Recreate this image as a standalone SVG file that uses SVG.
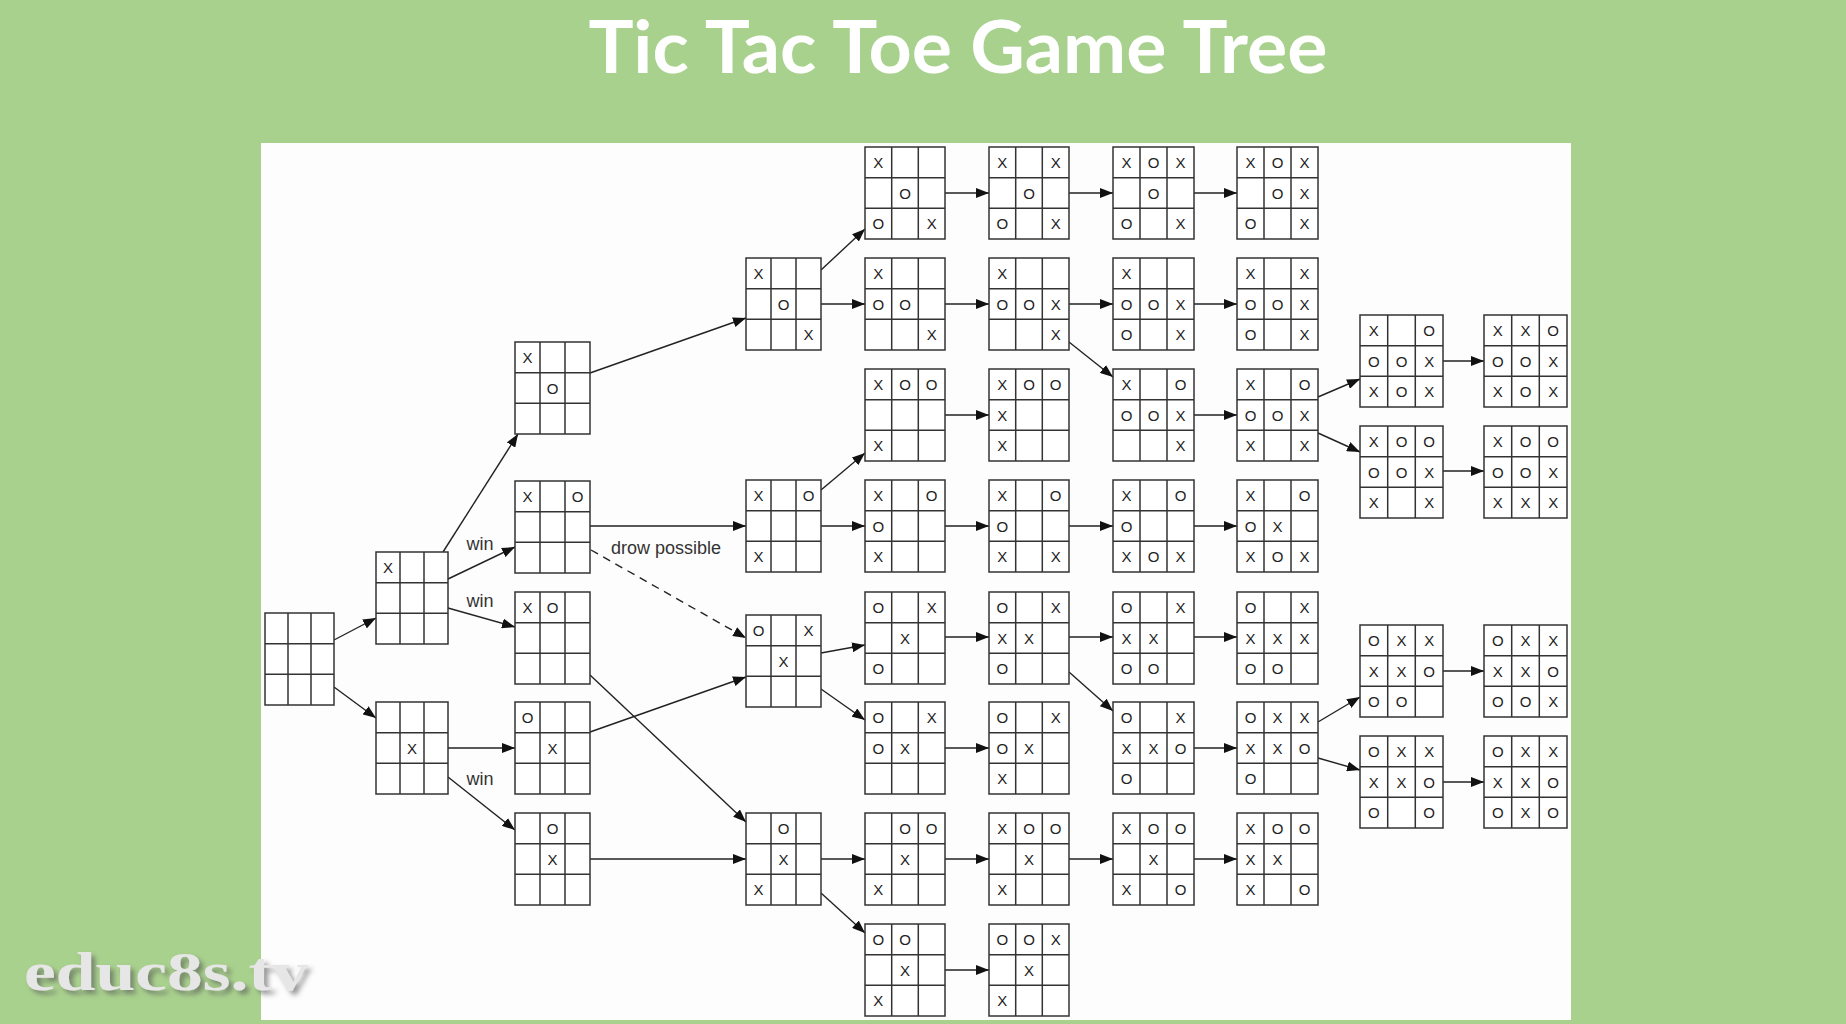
<svg xmlns="http://www.w3.org/2000/svg" xmlns:xlink="http://www.w3.org/1999/xlink" width="1846" height="1024" viewBox="0 0 1846 1024">
<style>
.grid{fill:#fff;stroke:#333;stroke-width:1.5}
.c{font-family:"Liberation Sans",Arial,sans-serif;font-size:15px;fill:#222;text-anchor:middle}
.lbl{font-family:"Liberation Sans",Arial,sans-serif;font-size:18px;fill:#333}
.edge{stroke:#222;stroke-width:1.4;fill:none;marker-end:url(#ah)}
.dash{stroke-dasharray:8 6}
.title{font-family:Lato,"Open Sans","Liberation Sans",sans-serif;font-weight:700;font-size:72px;fill:#fff;text-anchor:middle}
.wm{font-family:"Liberation Serif","Times New Roman",serif;font-weight:700;font-size:54px}
</style>
<defs>
<marker id="ah" markerUnits="userSpaceOnUse" markerWidth="14" markerHeight="10" refX="13" refY="5" orient="auto">
<path d="M0,0 L13,5 L0,10 z" fill="#111"/>
</marker>
<filter id="shadow" x="-10%" y="-30%" width="125%" height="170%">
<feGaussianBlur in="SourceAlpha" stdDeviation="2.5" result="b"/>
<feOffset in="b" dx="4" dy="4" result="o"/>
<feFlood flood-color="#555" flood-opacity="0.6"/>
<feComposite in2="o" operator="in" result="s"/>
<feMerge><feMergeNode in="s"/><feMergeNode in="SourceGraphic"/></feMerge>
</filter>
<g id="g69"><rect class="grid" x="0" y="0" width="69" height="92"/><path class="grid" d="M23,0V92M46,0V92M0,30.7H69M0,61.3H69"/></g>
<g id="g72"><rect class="grid" x="0" y="0" width="72" height="92"/><path class="grid" d="M24,0V92M48,0V92M0,30.7H72M0,61.3H72"/></g>
<g id="g75"><rect class="grid" x="0" y="0" width="75" height="92"/><path class="grid" d="M25,0V92M50,0V92M0,30.7H75M0,61.3H75"/></g>
<g id="g80"><rect class="grid" x="0" y="0" width="80" height="92"/><path class="grid" d="M26.7,0V92M53.3,0V92M0,30.7H80M0,61.3H80"/></g>
<g id="g81"><rect class="grid" x="0" y="0" width="81" height="92"/><path class="grid" d="M27,0V92M54,0V92M0,30.7H81M0,61.3H81"/></g>
<g id="g83"><rect class="grid" x="0" y="0" width="83" height="92"/><path class="grid" d="M27.7,0V92M55.3,0V92M0,30.7H83M0,61.3H83"/></g>
</defs>

<rect x="0" y="0" width="1846" height="1024" fill="#a9d18e"/>
<text class="title" x="958" y="73" textLength="739" lengthAdjust="spacingAndGlyphs">Tic Tac Toe Game Tree</text>
<rect x="261" y="143" width="1310" height="877" fill="#fdfdfd"/>

<g id="connectors">
<line class="edge" x1="334" y1="640" x2="376" y2="618"/>
<line class="edge" x1="334" y1="687" x2="376" y2="718"/>
<line class="edge" x1="443" y1="552" x2="518" y2="434"/>
<line class="edge" x1="448" y1="579" x2="515" y2="547"/>
<line class="edge" x1="448" y1="608" x2="515" y2="627"/>
<line class="edge" x1="448" y1="748" x2="515" y2="748"/>
<line class="edge" x1="448" y1="777" x2="515" y2="830"/>
<line class="edge" x1="590" y1="373" x2="746" y2="318"/>
<line class="edge" x1="590" y1="526" x2="746" y2="526"/>
<line class="edge dash" x1="591" y1="550" x2="746" y2="638"/>
<line class="edge" x1="590" y1="675" x2="746" y2="822"/>
<line class="edge" x1="590" y1="732" x2="746" y2="677"/>
<line class="edge" x1="590" y1="859" x2="746" y2="859"/>
<line class="edge" x1="821" y1="270" x2="865" y2="229"/>
<line class="edge" x1="821" y1="304" x2="865" y2="304"/>
<line class="edge" x1="821" y1="490" x2="865" y2="453"/>
<line class="edge" x1="821" y1="526" x2="865" y2="526"/>
<line class="edge" x1="821" y1="653" x2="865" y2="645"/>
<line class="edge" x1="821" y1="689" x2="865" y2="720"/>
<line class="edge" x1="821" y1="859" x2="865" y2="859"/>
<line class="edge" x1="821" y1="893" x2="865" y2="933"/>
<line class="edge" x1="945" y1="193" x2="989" y2="193"/>
<line class="edge" x1="945" y1="304" x2="989" y2="304"/>
<line class="edge" x1="945" y1="415" x2="989" y2="415"/>
<line class="edge" x1="945" y1="526" x2="989" y2="526"/>
<line class="edge" x1="945" y1="637" x2="989" y2="637"/>
<line class="edge" x1="945" y1="748" x2="989" y2="748"/>
<line class="edge" x1="945" y1="859" x2="989" y2="859"/>
<line class="edge" x1="945" y1="970" x2="989" y2="970"/>
<line class="edge" x1="1069" y1="193" x2="1113" y2="193"/>
<line class="edge" x1="1069" y1="304" x2="1113" y2="304"/>
<line class="edge" x1="1069" y1="342" x2="1113" y2="377"/>
<line class="edge" x1="1069" y1="526" x2="1113" y2="526"/>
<line class="edge" x1="1069" y1="637" x2="1113" y2="637"/>
<line class="edge" x1="1069" y1="672" x2="1113" y2="711"/>
<line class="edge" x1="1069" y1="859" x2="1113" y2="859"/>
<line class="edge" x1="1194" y1="193" x2="1237" y2="193"/>
<line class="edge" x1="1194" y1="304" x2="1237" y2="304"/>
<line class="edge" x1="1194" y1="415" x2="1237" y2="415"/>
<line class="edge" x1="1194" y1="526" x2="1237" y2="526"/>
<line class="edge" x1="1194" y1="637" x2="1237" y2="637"/>
<line class="edge" x1="1194" y1="748" x2="1237" y2="748"/>
<line class="edge" x1="1194" y1="859" x2="1237" y2="859"/>
<line class="edge" x1="1318" y1="397" x2="1360" y2="379"/>
<line class="edge" x1="1318" y1="433" x2="1360" y2="452"/>
<line class="edge" x1="1318" y1="722" x2="1360" y2="697"/>
<line class="edge" x1="1318" y1="758" x2="1360" y2="770"/>
<line class="edge" x1="1443" y1="361" x2="1484" y2="361"/>
<line class="edge" x1="1443" y1="471" x2="1484" y2="471"/>
<line class="edge" x1="1443" y1="671" x2="1484" y2="671"/>
<line class="edge" x1="1443" y1="782" x2="1484" y2="782"/>
<text class="lbl" x="480" y="550" text-anchor="middle">win</text>
<text class="lbl" x="480" y="607" text-anchor="middle">win</text>
<text class="lbl" x="480" y="785" text-anchor="middle">win</text>
<text class="lbl" x="611" y="554">drow possible</text>
</g>

<g id="n0" transform="translate(265,613)"><use href="#g69"/></g>
<g id="n1" transform="translate(376,552)"><use href="#g72"/><text class="c" x="12" y="21">X</text></g>
<g id="n2" transform="translate(376,702)"><use href="#g72"/><text class="c" x="36" y="51.5">X</text></g>

<g id="n3" transform="translate(515,342)"><use href="#g75"/><text class="c" x="12.5" y="21">X</text><text class="c" x="37.5" y="51.5">O</text></g>
<g id="n4" transform="translate(515,481)"><use href="#g75"/><text class="c" x="12.5" y="21">X</text><text class="c" x="62.5" y="21">O</text></g>
<g id="n5" transform="translate(515,592)"><use href="#g75"/><text class="c" x="12.5" y="21">X</text><text class="c" x="37.5" y="21">O</text></g>
<g id="n6" transform="translate(515,702)"><use href="#g75"/><text class="c" x="12.5" y="21">O</text><text class="c" x="37.5" y="51.5">X</text></g>
<g id="n7" transform="translate(515,813)"><use href="#g75"/><text class="c" x="37.5" y="21">O</text><text class="c" x="37.5" y="51.5">X</text></g>

<g id="n8" transform="translate(746,258)"><use href="#g75"/><text class="c" x="12.5" y="21">X</text><text class="c" x="37.5" y="51.5">O</text><text class="c" x="62.5" y="82">X</text></g>
<g id="n9" transform="translate(746,480)"><use href="#g75"/><text class="c" x="12.5" y="21">X</text><text class="c" x="62.5" y="21">O</text><text class="c" x="12.5" y="82">X</text></g>
<g id="n10" transform="translate(746,615)"><use href="#g75"/><text class="c" x="12.5" y="21">O</text><text class="c" x="62.5" y="21">X</text><text class="c" x="37.5" y="51.5">X</text></g>
<g id="n11" transform="translate(746,813)"><use href="#g75"/><text class="c" x="37.5" y="21">O</text><text class="c" x="37.5" y="51.5">X</text><text class="c" x="12.5" y="82">X</text></g>

<g id="n4A" transform="translate(865,147)"><use href="#g80"/><text class="c" x="13.3" y="21">X</text><text class="c" x="40" y="51.5">O</text><text class="c" x="13.3" y="82">O</text><text class="c" x="66.7" y="82">X</text></g>
<g id="n4B" transform="translate(865,258)"><use href="#g80"/><text class="c" x="13.3" y="21">X</text><text class="c" x="13.3" y="51.5">O</text><text class="c" x="40" y="51.5">O</text><text class="c" x="66.7" y="82">X</text></g>
<g id="n4C" transform="translate(865,369)"><use href="#g80"/><text class="c" x="13.3" y="21">X</text><text class="c" x="40" y="21">O</text><text class="c" x="66.7" y="21">O</text><text class="c" x="13.3" y="82">X</text></g>
<g id="n4D" transform="translate(865,480)"><use href="#g80"/><text class="c" x="13.3" y="21">X</text><text class="c" x="66.7" y="21">O</text><text class="c" x="13.3" y="51.5">O</text><text class="c" x="13.3" y="82">X</text></g>
<g id="n4E" transform="translate(865,592)"><use href="#g80"/><text class="c" x="13.3" y="21">O</text><text class="c" x="66.7" y="21">X</text><text class="c" x="40" y="51.5">X</text><text class="c" x="13.3" y="82">O</text></g>
<g id="n4F" transform="translate(865,702)"><use href="#g80"/><text class="c" x="13.3" y="21">O</text><text class="c" x="66.7" y="21">X</text><text class="c" x="13.3" y="51.5">O</text><text class="c" x="40" y="51.5">X</text></g>
<g id="n4G" transform="translate(865,813)"><use href="#g80"/><text class="c" x="40" y="21">O</text><text class="c" x="66.7" y="21">O</text><text class="c" x="40" y="51.5">X</text><text class="c" x="13.3" y="82">X</text></g>
<g id="n4H" transform="translate(865,924)"><use href="#g80"/><text class="c" x="13.3" y="21">O</text><text class="c" x="40" y="21">O</text><text class="c" x="40" y="51.5">X</text><text class="c" x="13.3" y="82">X</text></g>

<g id="n5A" transform="translate(989,147)"><use href="#g80"/><text class="c" x="13.3" y="21">X</text><text class="c" x="66.7" y="21">X</text><text class="c" x="40" y="51.5">O</text><text class="c" x="13.3" y="82">O</text><text class="c" x="66.7" y="82">X</text></g>
<g id="n5B" transform="translate(989,258)"><use href="#g80"/><text class="c" x="13.3" y="21">X</text><text class="c" x="13.3" y="51.5">O</text><text class="c" x="40" y="51.5">O</text><text class="c" x="66.7" y="51.5">X</text><text class="c" x="66.7" y="82">X</text></g>
<g id="n5C" transform="translate(989,369)"><use href="#g80"/><text class="c" x="13.3" y="21">X</text><text class="c" x="40" y="21">O</text><text class="c" x="66.7" y="21">O</text><text class="c" x="13.3" y="51.5">X</text><text class="c" x="13.3" y="82">X</text></g>
<g id="n5D" transform="translate(989,480)"><use href="#g80"/><text class="c" x="13.3" y="21">X</text><text class="c" x="66.7" y="21">O</text><text class="c" x="13.3" y="51.5">O</text><text class="c" x="13.3" y="82">X</text><text class="c" x="66.7" y="82">X</text></g>
<g id="n5E" transform="translate(989,592)"><use href="#g80"/><text class="c" x="13.3" y="21">O</text><text class="c" x="66.7" y="21">X</text><text class="c" x="13.3" y="51.5">X</text><text class="c" x="40" y="51.5">X</text><text class="c" x="13.3" y="82">O</text></g>
<g id="n5F" transform="translate(989,702)"><use href="#g80"/><text class="c" x="13.3" y="21">O</text><text class="c" x="66.7" y="21">X</text><text class="c" x="13.3" y="51.5">O</text><text class="c" x="40" y="51.5">X</text><text class="c" x="13.3" y="82">X</text></g>
<g id="n5G" transform="translate(989,813)"><use href="#g80"/><text class="c" x="13.3" y="21">X</text><text class="c" x="40" y="21">O</text><text class="c" x="66.7" y="21">O</text><text class="c" x="40" y="51.5">X</text><text class="c" x="13.3" y="82">X</text></g>
<g id="n5H" transform="translate(989,924)"><use href="#g80"/><text class="c" x="13.3" y="21">O</text><text class="c" x="40" y="21">O</text><text class="c" x="66.7" y="21">X</text><text class="c" x="40" y="51.5">X</text><text class="c" x="13.3" y="82">X</text></g>

<g id="n6A" transform="translate(1113,147)"><use href="#g81"/><text class="c" x="13.5" y="21">X</text><text class="c" x="40.5" y="21">O</text><text class="c" x="67.5" y="21">X</text><text class="c" x="40.5" y="51.5">O</text><text class="c" x="13.5" y="82">O</text><text class="c" x="67.5" y="82">X</text></g>
<g id="n6B" transform="translate(1113,258)"><use href="#g81"/><text class="c" x="13.5" y="21">X</text><text class="c" x="13.5" y="51.5">O</text><text class="c" x="40.5" y="51.5">O</text><text class="c" x="67.5" y="51.5">X</text><text class="c" x="13.5" y="82">O</text><text class="c" x="67.5" y="82">X</text></g>
<g id="n6C" transform="translate(1113,369)"><use href="#g81"/><text class="c" x="13.5" y="21">X</text><text class="c" x="67.5" y="21">O</text><text class="c" x="13.5" y="51.5">O</text><text class="c" x="40.5" y="51.5">O</text><text class="c" x="67.5" y="51.5">X</text><text class="c" x="67.5" y="82">X</text></g>
<g id="n6D" transform="translate(1113,480)"><use href="#g81"/><text class="c" x="13.5" y="21">X</text><text class="c" x="67.5" y="21">O</text><text class="c" x="13.5" y="51.5">O</text><text class="c" x="13.5" y="82">X</text><text class="c" x="40.5" y="82">O</text><text class="c" x="67.5" y="82">X</text></g>
<g id="n6E" transform="translate(1113,592)"><use href="#g81"/><text class="c" x="13.5" y="21">O</text><text class="c" x="67.5" y="21">X</text><text class="c" x="13.5" y="51.5">X</text><text class="c" x="40.5" y="51.5">X</text><text class="c" x="13.5" y="82">O</text><text class="c" x="40.5" y="82">O</text></g>
<g id="n6F" transform="translate(1113,702)"><use href="#g81"/><text class="c" x="13.5" y="21">O</text><text class="c" x="67.5" y="21">X</text><text class="c" x="13.5" y="51.5">X</text><text class="c" x="40.5" y="51.5">X</text><text class="c" x="67.5" y="51.5">O</text><text class="c" x="13.5" y="82">O</text></g>
<g id="n6G" transform="translate(1113,813)"><use href="#g81"/><text class="c" x="13.5" y="21">X</text><text class="c" x="40.5" y="21">O</text><text class="c" x="67.5" y="21">O</text><text class="c" x="40.5" y="51.5">X</text><text class="c" x="13.5" y="82">X</text><text class="c" x="67.5" y="82">O</text></g>

<g id="n7A" transform="translate(1237,147)"><use href="#g81"/><text class="c" x="13.5" y="21">X</text><text class="c" x="40.5" y="21">O</text><text class="c" x="67.5" y="21">X</text><text class="c" x="40.5" y="51.5">O</text><text class="c" x="67.5" y="51.5">X</text><text class="c" x="13.5" y="82">O</text><text class="c" x="67.5" y="82">X</text></g>
<g id="n7B" transform="translate(1237,258)"><use href="#g81"/><text class="c" x="13.5" y="21">X</text><text class="c" x="67.5" y="21">X</text><text class="c" x="13.5" y="51.5">O</text><text class="c" x="40.5" y="51.5">O</text><text class="c" x="67.5" y="51.5">X</text><text class="c" x="13.5" y="82">O</text><text class="c" x="67.5" y="82">X</text></g>
<g id="n7C" transform="translate(1237,369)"><use href="#g81"/><text class="c" x="13.5" y="21">X</text><text class="c" x="67.5" y="21">O</text><text class="c" x="13.5" y="51.5">O</text><text class="c" x="40.5" y="51.5">O</text><text class="c" x="67.5" y="51.5">X</text><text class="c" x="13.5" y="82">X</text><text class="c" x="67.5" y="82">X</text></g>
<g id="n7D" transform="translate(1237,480)"><use href="#g81"/><text class="c" x="13.5" y="21">X</text><text class="c" x="67.5" y="21">O</text><text class="c" x="13.5" y="51.5">O</text><text class="c" x="40.5" y="51.5">X</text><text class="c" x="13.5" y="82">X</text><text class="c" x="40.5" y="82">O</text><text class="c" x="67.5" y="82">X</text></g>
<g id="n7E" transform="translate(1237,592)"><use href="#g81"/><text class="c" x="13.5" y="21">O</text><text class="c" x="67.5" y="21">X</text><text class="c" x="13.5" y="51.5">X</text><text class="c" x="40.5" y="51.5">X</text><text class="c" x="67.5" y="51.5">X</text><text class="c" x="13.5" y="82">O</text><text class="c" x="40.5" y="82">O</text></g>
<g id="n7F" transform="translate(1237,702)"><use href="#g81"/><text class="c" x="13.5" y="21">O</text><text class="c" x="40.5" y="21">X</text><text class="c" x="67.5" y="21">X</text><text class="c" x="13.5" y="51.5">X</text><text class="c" x="40.5" y="51.5">X</text><text class="c" x="67.5" y="51.5">O</text><text class="c" x="13.5" y="82">O</text></g>
<g id="n7G" transform="translate(1237,813)"><use href="#g81"/><text class="c" x="13.5" y="21">X</text><text class="c" x="40.5" y="21">O</text><text class="c" x="67.5" y="21">O</text><text class="c" x="13.5" y="51.5">X</text><text class="c" x="40.5" y="51.5">X</text><text class="c" x="13.5" y="82">X</text><text class="c" x="67.5" y="82">O</text></g>

<g id="n8A" transform="translate(1360,315)"><use href="#g83"/><text class="c" x="13.8" y="21">X</text><text class="c" x="69.2" y="21">O</text><text class="c" x="13.8" y="51.5">O</text><text class="c" x="41.5" y="51.5">O</text><text class="c" x="69.2" y="51.5">X</text><text class="c" x="13.8" y="82">X</text><text class="c" x="41.5" y="82">O</text><text class="c" x="69.2" y="82">X</text></g>
<g id="n8B" transform="translate(1360,426)"><use href="#g83"/><text class="c" x="13.8" y="21">X</text><text class="c" x="41.5" y="21">O</text><text class="c" x="69.2" y="21">O</text><text class="c" x="13.8" y="51.5">O</text><text class="c" x="41.5" y="51.5">O</text><text class="c" x="69.2" y="51.5">X</text><text class="c" x="13.8" y="82">X</text><text class="c" x="69.2" y="82">X</text></g>
<g id="n8C" transform="translate(1360,625)"><use href="#g83"/><text class="c" x="13.8" y="21">O</text><text class="c" x="41.5" y="21">X</text><text class="c" x="69.2" y="21">X</text><text class="c" x="13.8" y="51.5">X</text><text class="c" x="41.5" y="51.5">X</text><text class="c" x="69.2" y="51.5">O</text><text class="c" x="13.8" y="82">O</text><text class="c" x="41.5" y="82">O</text></g>
<g id="n8D" transform="translate(1360,736)"><use href="#g83"/><text class="c" x="13.8" y="21">O</text><text class="c" x="41.5" y="21">X</text><text class="c" x="69.2" y="21">X</text><text class="c" x="13.8" y="51.5">X</text><text class="c" x="41.5" y="51.5">X</text><text class="c" x="69.2" y="51.5">O</text><text class="c" x="13.8" y="82">O</text><text class="c" x="69.2" y="82">O</text></g>

<g id="n9A" transform="translate(1484,315)"><use href="#g83"/><text class="c" x="13.8" y="21">X</text><text class="c" x="41.5" y="21">X</text><text class="c" x="69.2" y="21">O</text><text class="c" x="13.8" y="51.5">O</text><text class="c" x="41.5" y="51.5">O</text><text class="c" x="69.2" y="51.5">X</text><text class="c" x="13.8" y="82">X</text><text class="c" x="41.5" y="82">O</text><text class="c" x="69.2" y="82">X</text></g>
<g id="n9B" transform="translate(1484,426)"><use href="#g83"/><text class="c" x="13.8" y="21">X</text><text class="c" x="41.5" y="21">O</text><text class="c" x="69.2" y="21">O</text><text class="c" x="13.8" y="51.5">O</text><text class="c" x="41.5" y="51.5">O</text><text class="c" x="69.2" y="51.5">X</text><text class="c" x="13.8" y="82">X</text><text class="c" x="41.5" y="82">X</text><text class="c" x="69.2" y="82">X</text></g>
<g id="n9C" transform="translate(1484,625)"><use href="#g83"/><text class="c" x="13.8" y="21">O</text><text class="c" x="41.5" y="21">X</text><text class="c" x="69.2" y="21">X</text><text class="c" x="13.8" y="51.5">X</text><text class="c" x="41.5" y="51.5">X</text><text class="c" x="69.2" y="51.5">O</text><text class="c" x="13.8" y="82">O</text><text class="c" x="41.5" y="82">O</text><text class="c" x="69.2" y="82">X</text></g>
<g id="n9D" transform="translate(1484,736)"><use href="#g83"/><text class="c" x="13.8" y="21">O</text><text class="c" x="41.5" y="21">X</text><text class="c" x="69.2" y="21">X</text><text class="c" x="13.8" y="51.5">X</text><text class="c" x="41.5" y="51.5">X</text><text class="c" x="69.2" y="51.5">O</text><text class="c" x="13.8" y="82">O</text><text class="c" x="41.5" y="82">X</text><text class="c" x="69.2" y="82">O</text></g>

<g id="watermark">
<text class="wm" x="24" y="990" fill="#e6e6e6" filter="url(#shadow)" textLength="284" lengthAdjust="spacingAndGlyphs">educ8s.tv</text>
</g>
</svg>
